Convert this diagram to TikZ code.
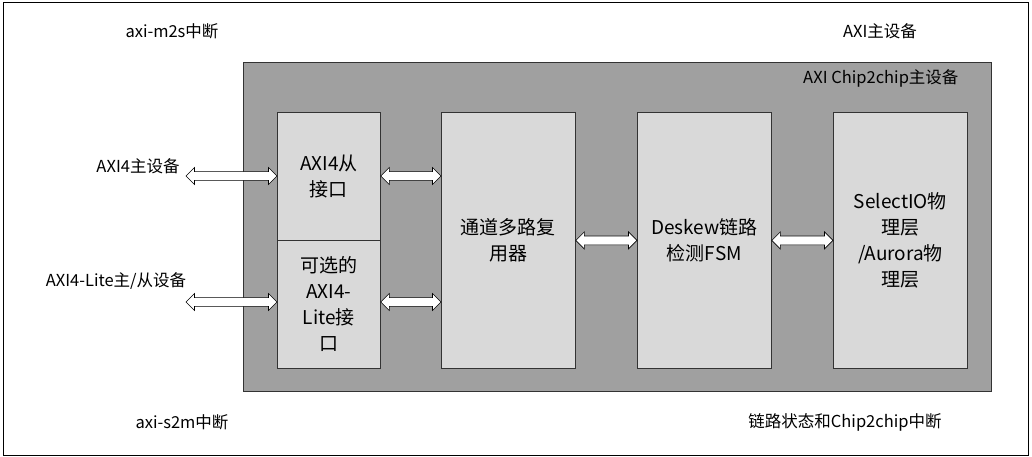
\documentclass[tikz,border=0pt]{standalone}
\usepackage{fontspec}
\setmainfont{Noto Sans CJK SC}
\usetikzlibrary{shapes.arrows,calc}
\definecolor{dk}{HTML}{A0A0A0}
\definecolor{lt}{HTML}{D9D9D9}
\tikzset{
 blk/.style={draw=black!80,fill=lt,line width=0.8pt,align=center,font=\fontsize{19}{26}\selectfont},
 lbl/.style={font=\fontsize{16.5}{20}\selectfont},
 darr/.style={double arrow,draw=black,fill=white,inner sep=4pt,double arrow head extend=4pt,minimum width=17pt,line width=0.6pt}
}
\newcommand{\darrow}[2]{\path let \p1=(#1), \p2=(#2) in node[darr,minimum height=\x2-\x1] at ($(#1)!0.5!(#2)$) {};}
\begin{document}
\begin{tikzpicture}[x=1pt,y=-1pt]
\useasboundingbox (0,0) rectangle (1032,457);
\draw[line width=0.6pt] (3,2) rectangle (1028,455);
\node[draw=black!80,fill=dk,line width=0.8pt,minimum width=748pt,minimum height=329pt,anchor=north west,inner sep=0] (main) at (243,62) {};
\node[lbl,anchor=east] (mt) at (962,78) {AXI Chip2chip主设备};
\node[blk,anchor=north west,minimum width=103pt,minimum height=128pt,inner sep=0] (s4) at (277,112) {AXI4从\\接口};
\node[blk,anchor=north west,minimum width=103pt,minimum height=128pt,inner sep=0] (sl) at (277,240) {可选的\\AXI4-\\Lite接\\口};
\node[blk,anchor=north west,minimum width=134pt,minimum height=256pt,inner sep=0] (mux) at (441,112) {通道多路复\\用器};
\node[blk,anchor=north west,minimum width=134pt,minimum height=256pt,inner sep=0] (dsk) at (637,112) {Deskew链路\\检测FSM};
\node[blk,anchor=north west,minimum width=134pt,minimum height=256pt,inner sep=0] (phy) at (833,112) {SelectIO物\\理层\\/Aurora物\\理层};
\node[lbl] (l1) at (172,31) {axi-m2s中断};
\node[lbl] (l2) at (880,31) {AXI主设备};
\node[lbl] (l3) at (138,166) {AXI4主设备};
\node[lbl] (l4) at (116,281) {AXI4-Lite主/从设备};
\node[lbl] (l5) at (182,422) {axi-s2m中断};
\node[lbl] (l6) at (845,422) {链路状态和Chip2chip中断};
\coordinate (a1) at (186,176);
\coordinate (a2) at (186,302);
\darrow{a1}{s4.west |- a1}
\darrow{a2}{sl.west |- a2}
\darrow{s4.east |- a1}{mux.west |- a1}
\darrow{sl.east |- a2}{mux.west |- a2}
\darrow{mux.east}{dsk.west}
\darrow{dsk.east}{phy.west}
\end{tikzpicture}
\end{document}
